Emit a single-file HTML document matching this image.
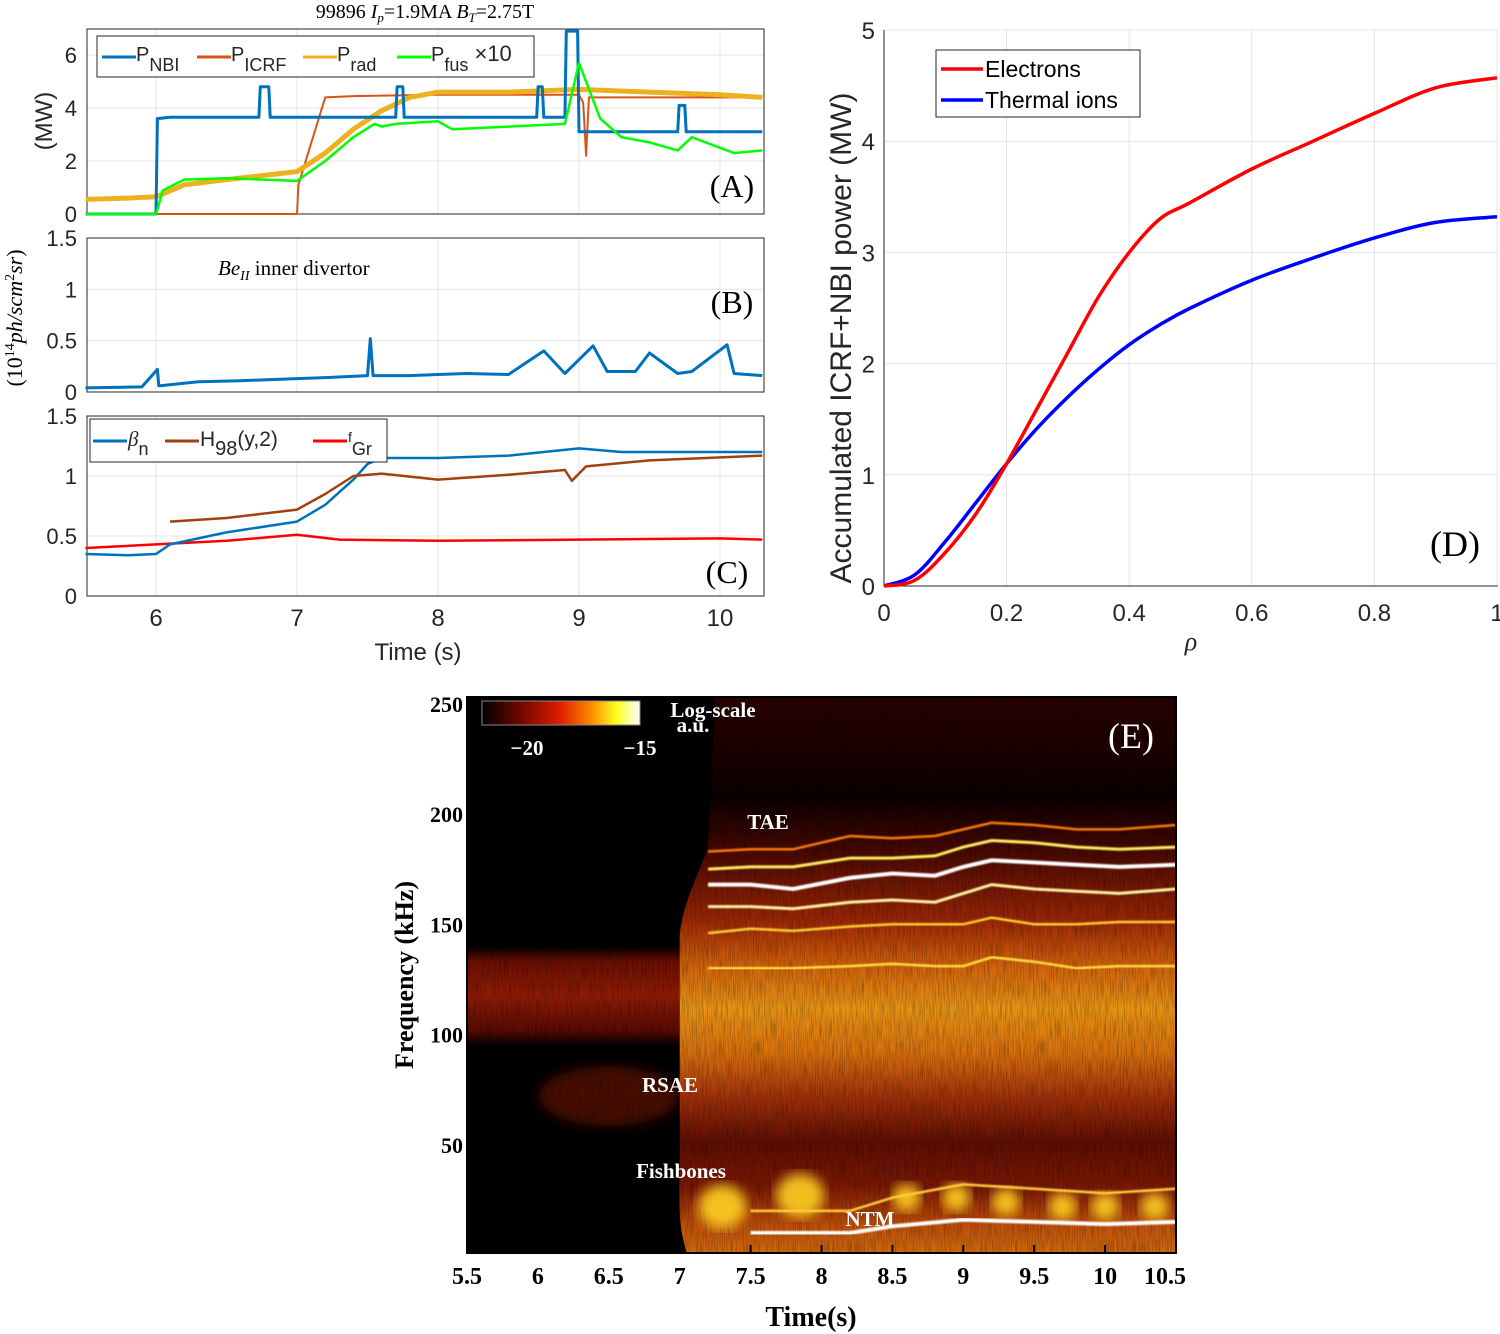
<!DOCTYPE html>
<html><head><meta charset="utf-8">
<style>
html,body{margin:0;padding:0;background:#fff;}
svg{display:block;}
.sans{font-family:"Liberation Sans",Arial,sans-serif;}
.serif{font-family:"Liberation Serif","Times New Roman",serif;}
</style></head>
<body>
<svg id="fig" width="1500" height="1334" viewBox="0 0 1500 1334" xmlns="http://www.w3.org/2000/svg">
<defs>
<linearGradient id="cbar" x1="0" x2="1" y1="0" y2="0">
<stop offset="0" stop-color="#000"/><stop offset="0.3" stop-color="#8a0a00"/><stop offset="0.5" stop-color="#e02000"/><stop offset="0.7" stop-color="#ff9000"/><stop offset="0.85" stop-color="#ffff20"/><stop offset="1" stop-color="#fff"/>
</linearGradient>
<linearGradient id="rightBg" x1="0" x2="0" y1="0" y2="1">
<stop offset="0" stop-color="#280300"/><stop offset="0.1" stop-color="#1c0200"/><stop offset="0.18" stop-color="#0a0000"/><stop offset="0.28" stop-color="#4a0902"/><stop offset="0.4" stop-color="#9a2606"/><stop offset="0.48" stop-color="#d0600c"/><stop offset="0.56" stop-color="#e89414"/><stop offset="0.64" stop-color="#d8700e"/><stop offset="0.72" stop-color="#a0300a"/><stop offset="0.8" stop-color="#5e0e03"/><stop offset="0.88" stop-color="#7a1805"/><stop offset="0.95" stop-color="#c0500a"/><stop offset="1" stop-color="#d06a10"/>
</linearGradient>
<linearGradient id="leftBand" x1="0" x2="0" y1="0" y2="1">
<stop offset="0" stop-color="#000"/><stop offset="0.15" stop-color="#6a0e03"/><stop offset="0.5" stop-color="#901c05"/><stop offset="0.85" stop-color="#5a0a02"/><stop offset="1" stop-color="#000"/>
</linearGradient>
<filter id="blur6"><feGaussianBlur stdDeviation="6"/></filter>
<filter id="blur2"><feGaussianBlur stdDeviation="0.8"/></filter>
<filter id="noise" x="0" y="0" width="1" height="1">
<feTurbulence type="fractalNoise" baseFrequency="0.9 0.05" numOctaves="2" seed="3"/>
<feColorMatrix values="0 0 0 0 0  0 0 0 0 0  0 0 0 0 0  0 0 0 1.2 -0.45"/>
</filter>
<clipPath id="clipE"><rect x="467" y="697" width="709" height="556"/></clipPath>
</defs>
<g id="root"></g>
</svg>
<script>
// ---------- Panel A data ----------
const nbiT=[5.5,6.0,6.01,6.1,6.73,6.74,6.8,6.81,7.7,7.71,7.75,7.76,8.7,8.71,8.74,8.75,8.9,8.91,8.99,9.0,9.7,9.71,9.75,9.76,10.3];
const nbiV=[0,0,3.6,3.65,3.65,4.8,4.8,3.65,3.65,4.8,4.8,3.65,3.65,4.8,4.8,3.65,3.65,6.9,6.9,3.1,3.1,4.1,4.1,3.1,3.1];
const icrfT=[5.5,7.0,7.01,7.2,7.4,8.0,8.5,9.0,9.03,9.05,9.07,10.3];
const icrfV=[0,0,1.1,4.4,4.45,4.5,4.5,4.5,4.2,2.2,4.4,4.4];
const radT=[5.5,5.8,6.0,6.2,6.5,7.0,7.2,7.4,7.6,7.8,8.0,8.5,9.0,9.5,10.0,10.3];
const radV=[0.55,0.6,0.65,1.1,1.3,1.6,2.3,3.2,3.9,4.4,4.6,4.6,4.7,4.6,4.5,4.4];
const fusT=[5.5,6.0,6.05,6.2,6.5,7.0,7.2,7.4,7.55,7.6,7.7,8.0,8.1,8.5,8.9,9.0,9.15,9.3,9.5,9.7,9.8,10.0,10.1,10.3];
const fusV=[0,0,0.9,1.3,1.35,1.25,2.0,2.9,3.4,3.3,3.4,3.5,3.2,3.3,3.4,5.7,3.6,2.9,2.7,2.4,2.9,2.5,2.3,2.4];
// ---------- Panel B data ----------
const beT=[5.5,5.9,6.01,6.02,6.03,6.3,6.6,7.0,7.2,7.5,7.52,7.54,7.8,8.0,8.2,8.5,8.75,8.9,9.1,9.2,9.4,9.5,9.7,9.8,10.05,10.1,10.3];
const beV=[0.04,0.05,0.22,0.06,0.06,0.1,0.11,0.13,0.14,0.16,0.52,0.16,0.16,0.17,0.18,0.17,0.4,0.18,0.45,0.2,0.2,0.38,0.18,0.2,0.46,0.18,0.16];
// ---------- Panel C data ----------
const betaT=[5.5,5.8,6.0,6.1,6.5,7.0,7.2,7.4,7.5,7.6,8.0,8.5,9.0,9.3,10.3];
const betaV=[0.35,0.34,0.35,0.43,0.53,0.62,0.76,0.97,1.1,1.15,1.15,1.17,1.23,1.2,1.2];
const h98T=[6.1,6.5,7.0,7.2,7.4,7.6,8.0,8.5,8.9,8.95,9.05,9.5,10.3];
const h98V=[0.62,0.65,0.72,0.85,1.0,1.02,0.97,1.01,1.05,0.96,1.08,1.13,1.17];
const fgrT=[5.5,6.0,6.5,7.0,7.3,8.0,9.0,10.0,10.3];
const fgrV=[0.4,0.43,0.46,0.51,0.47,0.46,0.47,0.48,0.47];
const timeTicks=[6,7,8,9,10];
// ---------- Panel D data ----------
const rho=[0,0.05,0.1,0.15,0.2,0.25,0.3,0.35,0.4,0.45,0.5,0.6,0.7,0.8,0.9,1.0];
const elec=[0,0.05,0.3,0.65,1.1,1.6,2.1,2.6,3.0,3.3,3.45,3.75,4.0,4.25,4.48,4.57];
const ions=[0,0.1,0.4,0.75,1.1,1.42,1.7,1.95,2.17,2.35,2.5,2.75,2.95,3.13,3.27,3.32];
const rhoTicks=[0,0.2,0.4,0.6,0.8,1];
const rhoTickLabels=["0","0.2","0.4","0.6","0.8","1"];
const powTicks=[0,1,2,3,4,5];
// ---------- Panel E data ----------
const eTimeTicks=[5.5,6,6.5,7,7.5,8,8.5,9,9.5,10,10.5];
const freqTicks=[50,100,150,200,250];
const modeT=[7.2,7.5,7.8,8.2,8.5,8.8,9.0,9.2,9.5,9.8,10.1,10.5];
const tae1=[168,168,166,171,173,172,176,179,178,177,176,177];
const tae2=[175,176,176,180,180,181,185,188,187,185,184,185];
const tae3=[183,184,184,190,189,190,193,196,195,193,193,195];
const tae4=[158,158,157,160,161,160,164,168,166,165,164,166];
const tae5=[146,148,147,149,150,150,150,153,150,150,151,151];
const tae6=[130,130,130,131,132,131,131,135,133,130,131,131];
const ntmT=[7.5,8.2,8.5,9.0,9.5,10.0,10.5];
const ntmF=[10,10,13,16,15,14,15];
const fishT=[7.3,7.85,8.6,8.95,9.3,9.7,10.0,10.35];
const fishF=[22,27,26,26,24,22,22,22];

const svg=document.getElementById('root');
const NS='http://www.w3.org/2000/svg';
function mk(tag,attrs,parent){const e=document.createElementNS(NS,tag);for(const k in attrs)e.setAttribute(k,attrs[k]);(parent||svg).appendChild(e);return e;}
function txt(s,x,y,attrs,parent){const e=mk('text',Object.assign({x:x,y:y},attrs),parent);e.textContent=s;return e;}
function pathFrom(T,V,fx,fy){return T.map((t,i)=>(i?'L':'M')+fx(t).toFixed(1)+' '+fy(V[i]).toFixed(1)).join(' ');}
function smoothPath(T,V,fx,fy){const P=T.map((t,i)=>[fx(t),fy(V[i])]);let d='M'+P[0][0]+' '+P[0][1];for(let i=0;i<P.length-1;i++){const p0=P[i-1]||P[i],p1=P[i],p2=P[i+1],p3=P[i+2]||p2;const c1=[p1[0]+(p2[0]-p0[0])/6,p1[1]+(p2[1]-p0[1])/6],c2=[p2[0]-(p3[0]-p1[0])/6,p2[1]-(p3[1]-p1[1])/6];d+=' C'+c1[0].toFixed(1)+' '+c1[1].toFixed(1)+' '+c2[0].toFixed(1)+' '+c2[1].toFixed(1)+' '+p2[0].toFixed(1)+' '+p2[1].toFixed(1);}return d;}

const xT=t=>156+(t-6)*141;
const L=87,R=764;
const yA=v=>214-v*26.5, yB=v=>392-v*102.7, yC=v=>596-v*120;

// Title
let e=txt('',425,18,{'text-anchor':'middle','font-size':'20',class:'serif'});
e.innerHTML='99896 <tspan font-style="italic">I</tspan><tspan font-style="italic" font-size="13" dy="4">p</tspan><tspan dy="-4">=1.9MA </tspan><tspan font-style="italic">B</tspan><tspan font-style="italic" font-size="13" dy="4">T</tspan><tspan dy="-4">=2.75T</tspan>';



function panelFrame(name,top,bot,yf,ticks,labels){
  const g=mk('g',{});
  
  
  timeTicks.forEach(t=>{const l=mk('line',{x1:xT(t),x2:xT(t),y1:top,y2:bot,stroke:'#e4e4e4','stroke-width':1},g);
    
    });
  ticks.forEach((v,i)=>{const l=mk('line',{x1:L,x2:R,y1:yf(v),y2:yf(v),stroke:'#e4e4e4','stroke-width':1},g);
    
    
    const t=txt(labels[i],77,yf(v)+8,{'text-anchor':'end','font-size':'22',class:'sans',fill:'#262626'},g);
    
    });
  const r=mk('rect',{x:L,y:top,width:R-L,height:bot-top,fill:'none',stroke:'#262626','stroke-width':1},g);
  
  
  return g;
}
function series(g,name,T,V,fy,color,w){const p=mk('path',{d:pathFrom(T,V,xT,fy),fill:'none',stroke:color,'stroke-width':w,'stroke-linejoin':'round'},g);
  
  return p;}

// Panel A
const gA=panelFrame('panel-a',29,214,yA,[0,2,4,6],['0','2','4','6']);
series(gA,'icrf-line',icrfT,icrfV,yA,'#d95319',2);
series(gA,'rad-line',radT,radV,yA,'#edb120',5);
series(gA,'nbi-line',nbiT,nbiV,yA,'#0072bd',3);
series(gA,'fus-line',fusT,fusV,yA,'#00ff00',2.5);
e=txt('(MW)',52,121,{'text-anchor':'middle','font-size':'24',class:'sans',fill:'#262626',transform:'rotate(-90 52 121)'});


e=txt('(A)',732,197,{'text-anchor':'middle','font-size':'32',class:'serif'});


// legend A
const lgA=mk('g',{});


mk('rect',{x:97,y:36,width:437,height:41,fill:'#fff',stroke:'#262626','stroke-width':1},lgA);
[['NBI',102,'#0072bd',''],['ICRF',197,'#d95319',''],['rad',303,'#edb120',''],['fus',397,'#00ff00',' ×10']].forEach(a=>{
  const l=mk('line',{x1:a[1],x2:a[1]+34,y1:57,y2:57,stroke:a[2],'stroke-width':3},lgA);
  
  
  const t=txt('',a[1]+34,61,{'font-size':'20',class:'sans',fill:'#262626'},lgA);
  t.innerHTML='P<tspan dy="10" font-size="18">'+a[0]+'</tspan><tspan dy="-10" font-size="22">'+a[3]+'</tspan>';
  
  
});

// Panel B
const gB=panelFrame('panel-b',238,392,yB,[0,0.5,1,1.5],['0','0.5','1','1.5']);
series(gB,'be-line',beT,beV,yB,'#0072bd',3);
e=txt('',218,275,{'font-size':'21',class:'serif'});
e.innerHTML='<tspan font-style="italic">Be</tspan><tspan font-style="italic" font-size="14" dy="5">II</tspan><tspan dy="-5"> inner divertor</tspan>';


e=txt('(B)',732,313,{'text-anchor':'middle','font-size':'32',class:'serif'});


e=txt('',22,318,{'text-anchor':'middle','font-size':'22',class:'serif',transform:'rotate(-90 22 318)'});
e.innerHTML='(10<tspan font-size="14" dy="-8">14</tspan><tspan dy="8" font-style="italic">ph/scm</tspan><tspan font-size="14" dy="-8">2</tspan><tspan dy="8" font-style="italic">sr</tspan>)';



// Panel C
const gC=panelFrame('panel-c',416,596,yC,[0,0.5,1,1.5],['0','0.5','1','1.5']);
series(gC,'fgr-line',fgrT,fgrV,yC,'#ff0000',2.5);
series(gC,'beta-line',betaT,betaV,yC,'#0072bd',2.5);
series(gC,'h98-line',h98T,h98V,yC,'#a2400f',2.5);
timeTicks.forEach(t=>{const l=txt(String(t),xT(t),626,{'text-anchor':'middle','font-size':'24',class:'sans',fill:'#262626'});
  
  });
e=txt('Time (s)',418,660,{'text-anchor':'middle','font-size':'24',class:'sans',fill:'#262626'});


e=txt('(C)',727,583,{'text-anchor':'middle','font-size':'32',class:'serif'});


const lgC=mk('g',{});


mk('rect',{x:90,y:419,width:297,height:43,fill:'#fff',stroke:'#262626','stroke-width':1},lgC);
[[93,'#0072bd','<tspan font-family="Liberation Serif" font-style="italic">β</tspan><tspan dy="9" font-size="18">n</tspan>','beta'],[165,'#a2400f','H<tspan dy="9" font-size="20">98</tspan><tspan dy="-9">(y,2)</tspan>','h98'],[313,'#ff0000','<tspan font-size="14" dy="-4">f</tspan><tspan dy="13" font-size="18">Gr</tspan>','fgr']].forEach(a=>{
  const l=mk('line',{x1:a[0],x2:a[0]+34,y1:441,y2:441,stroke:a[1],'stroke-width':3},lgC);
  
  
  const t=txt('',a[0]+35,446,{'font-size':'21',class:'sans',fill:'#262626'},lgC);
  t.innerHTML=a[2];
  
  
});

// Panel D
const xD=r=>884+r*613, yD=v=>586-v*111.2;
const gD=mk('g',{});


rhoTicks.forEach((r,i)=>{const l=mk('line',{x1:xD(r),x2:xD(r),y1:30,y2:586,stroke:'#e4e4e4'},gD);
  
  
  const t=txt(rhoTickLabels[i],xD(r),621,{'text-anchor':'middle','font-size':'24',class:'sans',fill:'#262626'},gD);
  
  });
powTicks.forEach(v=>{const l=mk('line',{x1:884,x2:1498,y1:yD(v),y2:yD(v),stroke:'#e4e4e4'},gD);
  
  
  const t=txt(String(v),875,yD(v)+9,{'text-anchor':'end','font-size':'24',class:'sans',fill:'#262626'},gD);
  
  });
e=mk('path',{d:'M884 30 V586 H1498',fill:'none',stroke:'#262626'},gD);


e=mk('path',{d:smoothPath(rho,ions,xD,yD),fill:'none',stroke:'#0000ff','stroke-width':3.5},gD);


e=mk('path',{d:smoothPath(rho,elec,xD,yD),fill:'none',stroke:'#ff0000','stroke-width':3.5},gD);


e=txt('ρ',1191,650,{'text-anchor':'middle','font-size':'26',class:'serif','font-style':'italic',fill:'#262626'},gD);


e=txt('Accumulated ICRF+NBI power  (MW)',851,338,{'text-anchor':'middle','font-size':'30',class:'sans',fill:'#262626',transform:'rotate(-90 851 338)'},gD);


e=txt('(D)',1455,556,{'text-anchor':'middle','font-size':'36',class:'serif'},gD);


const lgD=mk('g',{});


mk('rect',{x:936,y:50,width:204,height:67,fill:'#fff',stroke:'#262626'},lgD);
[['Electrons','#ff0000',69],['Thermal ions','#0000ff',100]].forEach(a=>{
  const l=mk('line',{x1:941,x2:983,y1:a[2],y2:a[2],stroke:a[1],'stroke-width':3.5},lgD);
  
  
  const t=txt(a[0],985,a[2]+8,{'font-size':'23',class:'sans',fill:'#000'},lgD);
  
  });

// Panel E
const xE=t=>467+(t-5.5)*141.8, yE=f=>1255-f*2.205;
const gE=mk('g',{'clip-path':'url(#clipE)'});


mk('rect',{x:467,y:697,width:709,height:556,fill:'#000'},gE);
e=mk('rect',{x:467,y:yE(140),width:xE(7.0)-467,height:yE(95)-yE(140),fill:'url(#leftBand)'},gE);


e=mk('ellipse',{cx:xE(6.5),cy:yE(72),rx:70,ry:30,fill:'#4a0802',filter:'url(#blur6)'},gE);


e=mk('path',{d:'M'+xE(7.25)+' 697 H1176 V1253 H'+xE(7.05)+' C'+xE(6.98)+' 1220 '+xE(7.0)+' 1200 '+xE(7.0)+' 1150 V'+yE(145)+' C'+xE(7.02)+' '+yE(160)+' '+xE(7.15)+' '+yE(175)+' '+xE(7.2)+' '+yE(185)+' Z',fill:'url(#rightBg)'},gE);


e=mk('rect',{x:467,y:697,width:709,height:556,fill:'#000',filter:'url(#noise)',opacity:0.5},gE);


fishT.forEach((t,i)=>{const b=mk('ellipse',{cx:xE(t),cy:yE(fishF[i]),rx:i<2?24:14,ry:i<2?22:14,fill:'#ffd020',filter:'url(#blur6)',opacity:0.9},gE);
  
  });
[[tae6,'#ffe040',2.5],[tae5,'#ffd030',2.5],[tae4,'#fff5a0',3],[tae3,'#ff7a10',2.5],[tae2,'#ffef60',3],[tae1,'#ffffff',4]].forEach((m,i)=>{
  const p=mk('path',{d:pathFrom(modeT,m[0],xE,yE),fill:'none',stroke:m[1],'stroke-width':m[2],filter:'url(#blur2)'},gE);
  
  });
e=mk('path',{d:pathFrom(ntmT,ntmF,xE,yE),fill:'none',stroke:'#ffffff','stroke-width':4,filter:'url(#blur2)'},gE);


e=mk('path',{d:pathFrom(ntmT,ntmF.map(f=>f*2),xE,yE),fill:'none',stroke:'#ffd040','stroke-width':2.5,filter:'url(#blur2)'},gE);


// frame & ticks
const gEa=mk('g',{});


mk('rect',{x:467,y:697,width:709,height:556,fill:'none',stroke:'#000','stroke-width':2},gEa);
eTimeTicks.forEach(t=>{const l=mk('line',{x1:xE(t),x2:xE(t),y1:1253,y2:1245,stroke:'#000','stroke-width':2},gEa);
  
  
  const s=txt(String(t),Math.min(xE(t),1165),1284,{'text-anchor':'middle','font-size':'24','font-weight':'bold',class:'serif'},gEa);
  
  });
freqTicks.forEach(f=>{const s=txt(String(f),463,yE(f)+8,{'text-anchor':'end','font-size':'22','font-weight':'bold',class:'serif'},gEa);
  
  });
e=txt('Frequency (kHz)',413,975,{'text-anchor':'middle','font-size':'26','font-weight':'bold',class:'serif',transform:'rotate(-90 413 975)'});


e=txt('Time(s)',811,1326,{'text-anchor':'middle','font-size':'28','font-weight':'bold',class:'serif'});


e=mk('rect',{x:482,y:701,width:158,height:24,fill:'url(#cbar)',stroke:'#888','stroke-width':1});


[['−20',527,755],['−15',640,755],['Log-scale',713,717],['a.u.',693,732],['TAE',768,829],['RSAE',670,1092],['Fishbones',681,1178],['NTM',870,1226]].forEach(a=>{
  const s=txt(a[0],a[1],a[2],{'text-anchor':'middle','font-size':'21','font-weight':'bold',class:'serif',fill:'#fff'});
  
  });
e=txt('(E)',1131,748,{'text-anchor':'middle','font-size':'36',class:'serif',fill:'#fff'});


</script>
</body></html>
